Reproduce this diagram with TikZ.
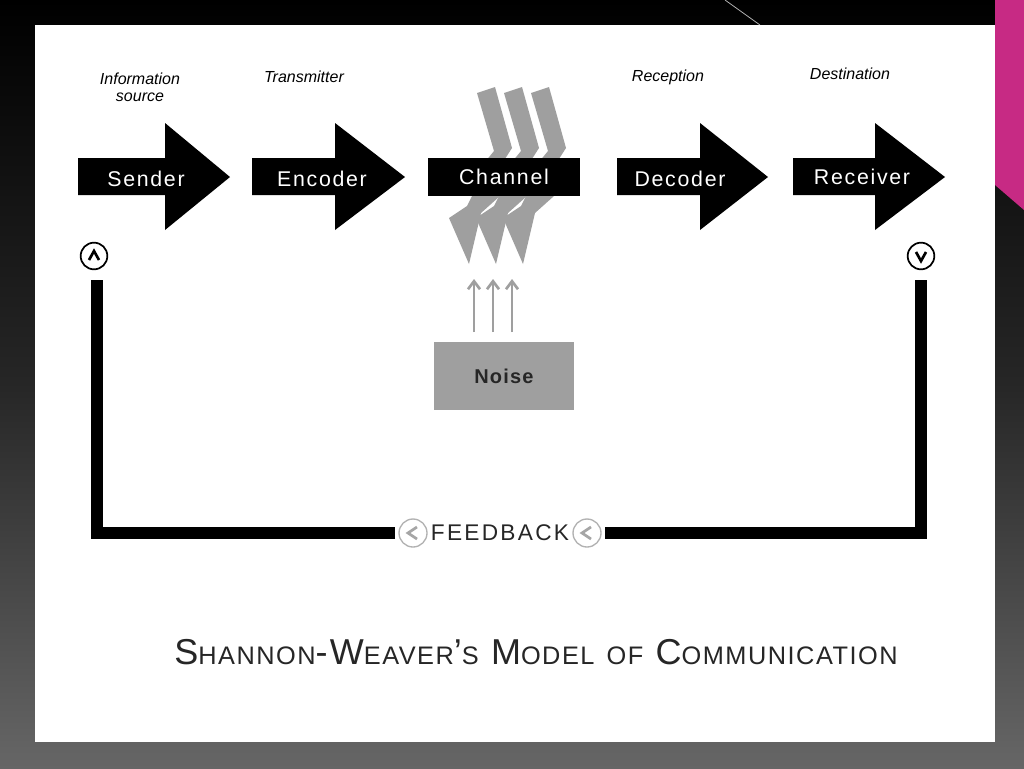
\documentclass[tikz,border=0pt]{standalone}
\usepackage{fontspec}
\setmainfont{Liberation Sans}
\usetikzlibrary{arrows.meta}
\newcommand{\BL}[2]{{\fontsize{27}{30}\selectfont #1}{\fontsize{19}{22}\selectfont #2}}
\begin{document}
\begin{tikzpicture}[x=0.75pt,y=-0.75pt,
  blk/.style={fill=black},
  lbl/.style={font=\itshape\fontsize{12}{13}\selectfont,align=center},
  wt/.style={text=white,font=\fontsize{16}{18}\selectfont\addfontfeatures{LetterSpace=8}},
  bolt/.style={fill=gray!75,draw=none},
  fb/.style={line width=9pt,draw=black},
  circ/.style={circle,draw=black,line width=1.3pt,fill=white,minimum size=18pt,inner sep=0pt}]
\useasboundingbox (0,0) rectangle (1024,768);
\shade[top color=black,bottom color=black!60,middle color=black!85] (0,0) rectangle (1024,768);
\fill[magenta!80!black] (995,0) -- (1024,0) -- (1024,210) -- (995,185) -- cycle;
\draw[gray!60,line width=0.6pt] (725,0) -- (760,25);
\fill[white] (35,25) rectangle (995,742);
% labels
\node[lbl] (l1) at (140,87) {Information\\source};
\node[lbl] (l2) at (304,77) {Transmitter};
\node[lbl] (l4) at (668,77) {Reception};
\node[lbl] (l5) at (850,74) {Destination};
% big arrows
\foreach \x/\w/\h in {78/87/65, 252/83/70, 617/83/68, 793/82/70}{
  \fill[blk] (\x,158) -- ++(\w,0) -- ++(0,-35) -- ++(\h,54) -- ++(-\h,53) -- ++(0,-35) -- ++(-\w,0) -- cycle;
}
\node[wt] (s) at (146,179) {Sender};
\node[wt] (e) at (322,179) {Encoder};
\node[wt] (d) at (680,179) {Decoder};
\node[wt] (r) at (862,177) {Receiver};
% bolts
\foreach \o in {0,27,54}{
  \fill[bolt,xshift=\o*0.75pt] (477,93) -- (495,87) -- (512,148) -- (503,162) -- (485,162) -- (494,151) -- cycle;
  \fill[bolt,xshift=\o*0.75pt] (472,196) -- (500,196) -- (481,213) -- (469,264) -- (449,218) -- (467,206) -- cycle;
}
\node[fill=black,minimum width=114pt,minimum height=29pt,wt] (c) at (504,177) {Channel};
% noise
\node[fill=gray!75,minimum width=105pt,minimum height=51pt,font=\bfseries\fontsize{15}{17}\selectfont\addfontfeatures{LetterSpace=6},text=black!85] (n) at (504,376) {Noise};
\foreach \x in {474,493,512}{
  \draw[gray!75,line width=2pt,-{Straight Barb[length=6pt,width=9pt]}] (\x,332) -- (\x,279);
}
% feedback
\coordinate (a1) at (97,280);
\coordinate (a2) at (97,533);
\coordinate (a3) at (395,533);
\coordinate (b1) at (605,533);
\coordinate (b2) at (921,533);
\coordinate (b3) at (921,280);
\draw[fb] (a3) -- (a2) -- (a1);
\draw[fb] (b1) -- (b2) -- (b3);
\node[circ,minimum size=20pt] (cu) at (94,256) {};
\draw[line width=2pt] ([shift={(-5,4)}]cu.center) -- ([shift={(0,-5)}]cu.center) -- ([shift={(5,4)}]cu.center);
\node[circ,minimum size=20pt] (cd) at (921,256) {};
\draw[line width=2pt] ([shift={(-5,-4)}]cd.center) -- ([shift={(0,5)}]cd.center) -- ([shift={(5,-4)}]cd.center);
\node[font=\fontsize{17}{19}\selectfont\addfontfeatures{LetterSpace=10},text=black!85] (fbk) at (500,533) {FEEDBACK};
\foreach \x/\n in {413/g1,587/g2}{
  \node[circle,draw=gray!60,line width=1pt,minimum size=21pt,inner sep=0pt] (\n) at (\x,533) {};
  \draw[gray!70,line width=2pt] ([shift={(4,-6)}]\n.center) -- ([shift={(-5,0)}]\n.center) -- ([shift={(4,6)}]\n.center);
}
% title
\node[text=black!85,font=\addfontfeatures{LetterSpace=6}] (title) at (536,652) {\BL{S}{HANNON}\BL{-}{}\BL{W}{EAVER}\BL{'}{S}\BL{\ }{}\BL{M}{ODEL}\BL{\ }{}\BL{}{OF}\BL{\ }{}\BL{C}{OMMUNICATION}};
\end{tikzpicture}
\end{document}
